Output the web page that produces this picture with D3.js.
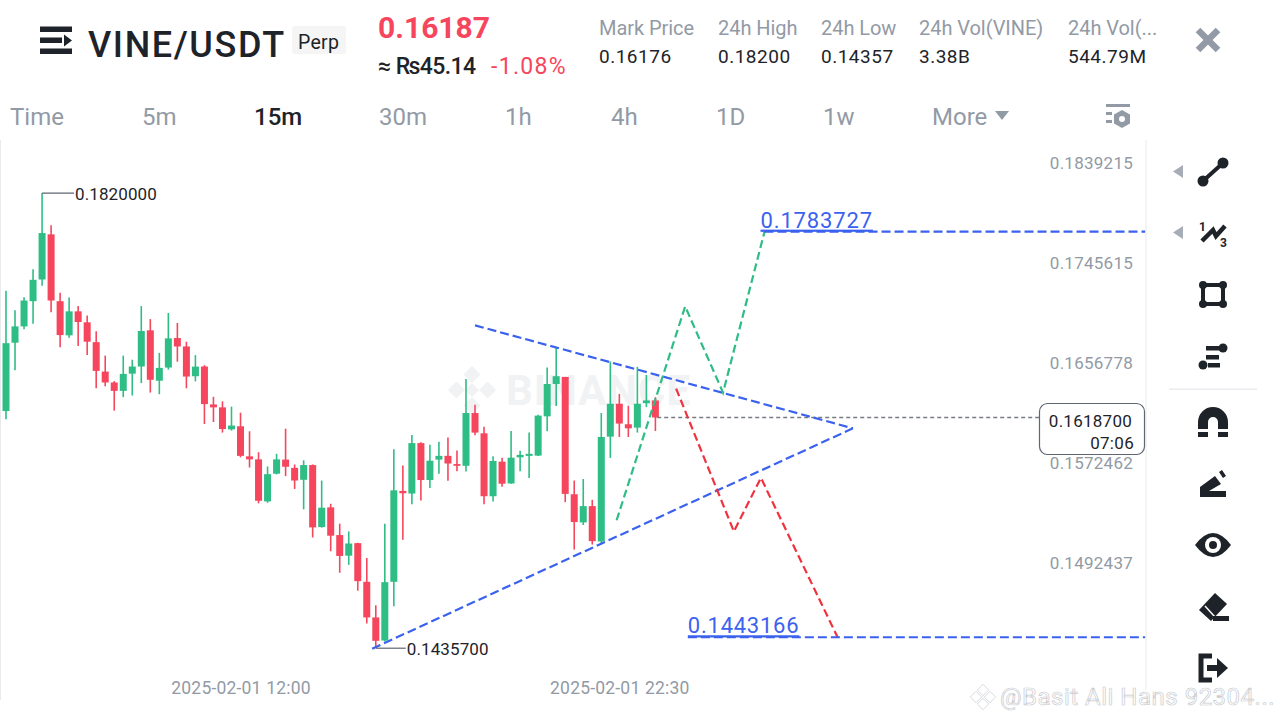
<!DOCTYPE html>
<html>
<head>
<meta charset="utf-8">
<title>VINE/USDT</title>
<script src="https://cdn.jsdelivr.net/npm/d3@7"></script>
<style>
html,body{margin:0;padding:0;background:#fff;overflow:hidden}
svg{display:block;font-family:Roboto,"DejaVu Sans",sans-serif}
</style>
</head>
<body>
<div id="chart"></div>
<script>
var opens = [.16242,.16832,.16976,.17201,.17397,.17812,.17201,.16897,.17110,.17012,
.16837,.16580,.16486,.16414,.16562,.16624,.16941,.16501,.16615,.16873,
.16799,.16540,.16624,.16298,.16273,.16087,.16113,.15862,.15837,.15493,
.15719,.15835,.15767,.15669,.15790,.15287,.15445,.15223,.15060,.15159,
.14856,.14582,.14407,.14856,.15578,.15557,.15972,.15667,.15835,.15866,
.15798,.15784,.16225,.16054,.15535,.15818,.15639,.15854,.15866,.15868,
.16197,.16473,.16534,.15551,.15324,.15455,.15172,.16026,.16304,.16130,
.16102,.16309,.16332];
var closes = [.16828,.16976,.17207,.17394,.17824,.17207,.16899,.17110,.17015,.16841,
.16586,.16486,.16414,.16560,.16624,.16935,.16509,.16612,.16870,.16799,
.16537,.16623,.16301,.16273,.16090,.16119,.15866,.15837,.15498,.15715,
.15837,.15776,.15663,.15790,.15284,.15442,.15218,.15058,.15156,.14861,
.14582,.14405,.14853,.15583,.15559,.15972,.15667,.15826,.15866,.15803,
.15784,.16225,.16060,.15535,.15824,.15637,.15851,.15874,.15883,.16203,
.16473,.16540,.15554,.15327,.15455,.15175,.16023,.16304,.16136,.16096,
.16304,.16332,.16187];
var highs = [.17296,.17119,.17237,.17491,.18200,.17896,.17276,.17234,.17157,.17074,
.16932,.16719,.16498,.16719,.16683,.17157,.17041,.16743,.17095,.17006,
.16841,.16723,.16636,.16363,.16324,.16279,.16228,.16071,.15896,.15778,
.15883,.16093,.15795,.15829,.15795,.15663,.15474,.15314,.15252,.15162,
.15042,.14675,.15314,.15921,.15787,.16039,.15980,.15959,.15984,.16018,
.15910,.16515,.16296,.16110,.15862,.15851,.16073,.15908,.16060,.16211,
.16615,.16793,.16534,.15663,.15675,.15506,.16225,.16668,.16388,.16287,
.16621,.16551,.16360];
var lows = [.16172,.16592,.16950,.17000,.17341,.17103,.16793,.16876,.16802,.16725,
.16436,.16453,.16245,.16360,.16374,.16481,.16399,.16385,.16597,.16666,
.16436,.16496,.16132,.16149,.16060,.16077,.15854,.15770,.15477,.15482,
.15713,.15699,.15594,.15429,.15204,.15282,.15095,.14926,.14988,.14787,
.14536,.14357,.14400,.14668,.15186,.15471,.15501,.15602,.15719,.15661,
.15739,.15736,.16037,.15471,.15493,.15613,.15637,.15739,.15683,.15864,
.16071,.16284,.15487,.15108,.15303,.15148,.15148,.15849,.16023,.16023,
.16060,.16275,.16073];

var priceTicks = [0.1839215,0.1745615,0.1656778,0.1572462,0.1492437];
var timeTicks = [26,68];
var timeLabels = ["2025-02-01 12:00","2025-02-01 22:30"];

// drawings, as [candle index, price]
var upperLine = [[52,.16985],[93.9,.16096]];
var lowerLine = [[40.6,.14346],[93.9,.16096]];
var greenPath = [[67.7,.15341],[75.3,.17154],[79.5,.16399],[84.1,.1783727]];
var redPath = [[74.3,.16433],[80.7,.15252],[83.7,.15685],[92.2,.1443166]];
var targetHigh = [[84.1,.1783727],[126.3,.1783727]];
var targetLow = [[75.6,.1443166],[126.3,.1443166]];
var lastPriceLine = [[72.2,.16187],[114.6,.16187]];

var statLabels = ["Mark Price","24h High","24h Low","24h Vol(VINE)","24h Vol(..."];
var statValues = ["0.16176","0.18200","0.14357","3.38B","544.79M"];
var statX = [599,718,821,919,1068];
var tabs = ["Time","5m","15m","30m","1h","4h","1D","1w","More"];
var tabX = [10,142,254,379,505,611,716,823,932];

var GREEN = "#2ebd85", RED = "#f6465d", BLUE = "#3b62ee", DARK = "#1e2329", GREY = "#929aa5";

var svg = d3.select("#chart").append("svg").attr("width",1280).attr("height",720);

var x = d3.scaleLinear().domain([0,72]).range([6,655.4]);
var y = d3.scaleLog().domain([0.1839215,0.1492437]).range([173,573]);

function txt(s,px,py,size,color,weight,anchor,ls){
    return svg.append("text").text(s).attr("x",px).attr("y",py)
        .attr("font-size",size).attr("fill",color)
        .attr("font-weight",weight||400)
        .attr("text-anchor",anchor||"start")
        .attr("letter-spacing",ls||0);
}

// frame
svg.append("line").attr("x1",0.5).attr("x2",0.5).attr("y1",140).attr("y2",700).attr("stroke","#e8eaed");
svg.append("line").attr("x1",1146).attr("x2",1146).attr("y1",140).attr("y2",690).attr("stroke","#e8eaed");

// watermark behind the candles
var wm = svg.append("g").attr("fill","#f1f2f3");
wm.append("g").attr("transform","translate(472,390) rotate(45)").selectAll("rect")
    .data([[-17,-17,12,12],[5,-17,12,12],[-17,5,12,12],[5,5,12,12],[-5,-5,10,10]])
    .enter().append("rect")
    .attr("x",function(d){return d[0]}).attr("y",function(d){return d[1]})
    .attr("width",function(d){return d[2]}).attr("height",function(d){return d[3]});
wm.append("text").text("BINANCE").attr("x",506).attr("y",405).attr("font-size",42).attr("font-weight",700).attr("letter-spacing",1);

// axes
var yAxis = d3.axisRight(y).tickValues(priceTicks).tickSize(0).tickFormat(function(d){return d.toFixed(7)});
var yg = svg.append("g").attr("transform","translate(1133,0)").call(yAxis);
yg.select(".domain").remove();
yg.selectAll("text").attr("x",0).attr("dy","-0.27em").attr("text-anchor","end")
    .attr("fill",GREY).attr("font-size",17).attr("font-family","Roboto").attr("letter-spacing",0.25);

var xAxis = d3.axisBottom(x).tickValues(timeTicks).tickSize(0)
    .tickFormat(function(d,i){return timeLabels[i]});
var xg = svg.append("g").attr("transform","translate(0,676)").call(xAxis);
xg.select(".domain").remove();
xg.selectAll("text").attr("y",0).attr("dy","1em").attr("fill",GREY).attr("font-size",17.5).attr("font-family","Roboto").attr("letter-spacing",0.2);

// candles
var candles = svg.append("g").selectAll("g").data(opens).enter().append("g");
candles.append("line")
    .attr("x1",function(d,i){return x(i)}).attr("x2",function(d,i){return x(i)})
    .attr("y1",function(d,i){return y(highs[i])}).attr("y2",function(d,i){return y(lows[i])})
    .attr("stroke-width",1.6)
    .attr("stroke",function(d,i){return closes[i]>=d?GREEN:RED});
candles.append("rect")
    .attr("x",function(d,i){return x(i)-3.5}).attr("width",7)
    .attr("y",function(d,i){return y(Math.max(d,closes[i]))})
    .attr("height",function(d,i){return Math.max(1.5,Math.abs(y(d)-y(closes[i])))})
    .attr("fill",function(d,i){return closes[i]>=d?GREEN:RED});

// drawings
var line = d3.line().x(function(d){return x(d[0])}).y(function(d){return y(d[1])});
function drawing(pts,color,w,dash){
    svg.append("path").attr("d",line(pts)).attr("fill","none")
        .attr("stroke",color).attr("stroke-width",w).attr("stroke-dasharray",dash);
}
drawing(lastPriceLine,"#777b82",1.5,"4 3");
drawing(upperLine,BLUE,2.2,"9 4");
drawing(lowerLine,BLUE,2.2,"9 4");
drawing(greenPath,GREEN,2.2,"8 4");
drawing(redPath,"#f0323f",2.2,"8 4");
drawing(targetHigh,BLUE,2.2,"9 4");
drawing(targetLow,BLUE,2.2,"9 4");

txt("0.1783727",x(84.1)-4,y(.1783727)-4,22,BLUE,400,"start",0.85).attr("text-decoration","underline");
txt("0.1443166",x(75.6),y(.1443166)-4,22,BLUE,400,"start",0.75).attr("text-decoration","underline");

// high / low markers
svg.append("line").attr("x1",x(4)).attr("x2",x(4)+32).attr("y1",y(.182)).attr("y2",y(.182)).attr("stroke","#5e6673").attr("stroke-width",1.2);
txt("0.1820000",x(4)+33,y(.182)+7,17,DARK,400,"start",0.1);
svg.append("line").attr("x1",x(41)).attr("x2",x(41)+30).attr("y1",y(.14357)+1).attr("y2",y(.14357)+1).attr("stroke","#5e6673").attr("stroke-width",1.2);
txt("0.1435700",x(41)+31,y(.14357)+8,17,DARK,400,"start",0.1);

// last price box
svg.append("rect").attr("x",1039.5).attr("y",403.5).attr("width",105).attr("height",51).attr("rx",8)
    .attr("fill","#fff").attr("stroke","#5e6673").attr("stroke-width",1.2);
txt("0.1618700",1132,427,17,DARK,400,"end",0.25);
txt("07:06",1134,449,17,DARK,400,"end",0.3);

// header
svg.append("g").attr("fill",DARK).selectAll("rect")
    .data([[40,26.5,32,5.5],[40,37.5,22,5.5],[40,48.5,32,5.5]]).enter().append("rect")
    .attr("x",function(d){return d[0]}).attr("y",function(d){return d[1]})
    .attr("width",function(d){return d[2]}).attr("height",function(d){return d[3]});
svg.append("path").attr("d","M64 34.5L72 40.5L64 46.5Z").attr("fill",DARK);
txt("VINE/USDT",88,57,36,DARK,500,"start",1.6);
svg.append("rect").attr("x",292).attr("y",26).attr("width",54).attr("height",28).attr("rx",3).attr("fill","#f5f5f5");
txt("Perp",298,49,19.5,DARK,400,"start",0.3);
txt("0.16187",378,38,30,RED,700,"start",0);
txt("≈ ₨45.14",378,74,23,DARK,500,"start",-0.6);
txt("-1.08%",491,74,23,RED,400,"start",1.3);

statLabels.forEach(function(s,i){
    txt(s,statX[i],35,20,GREY,400,"start",-0.05);
    txt(statValues[i],statX[i],63,19,DARK,400,"start",0.5);
});

tabs.forEach(function(s,i){
    txt(s,tabX[i],125,24,s=="15m"?DARK:GREY,s=="15m"?500:400,"start",0);
});
svg.append("path").attr("d","M995 111H1009L1002 120Z").attr("fill",GREY);
// settings icon
svg.append("g").attr("fill",GREY).html(
    '<rect x="1106" y="104" width="24" height="3"/><rect x="1106" y="112" width="6" height="3"/>'+
    '<rect x="1106" y="120" width="6" height="3"/><path d="M1122 110l8 4.5v9l-8 4.5l-8-4.5v-9z"/><circle cx="1122" cy="119" r="3" fill="#fff"/>');
// close
svg.append("path").attr("d","M1198 30L1218 50M1218 30L1198 50").attr("stroke",GREY).attr("stroke-width",6.5).attr("fill","none");

// side toolbar
var bar = svg.append("g").attr("fill",DARK);
bar.append("path").attr("d","M1183 165V178L1173 171.5Z M1183 226V239L1173 232.5Z").attr("fill","#a7adb6");
bar.html(bar.html()+
    '<path d="M1203 181L1223 163" stroke="#1e2329" stroke-width="4"/><circle cx="1203" cy="181" r="5.5"/><circle cx="1223" cy="163" r="5.5"/>'+
    '<path d="M1202 241L1213 230L1216 236L1225 226" stroke="#1e2329" stroke-width="4.5" fill="none"/>'+
    '<text x="1199" y="231" font-size="12" font-weight="700">1</text><text x="1220" y="247" font-size="12" font-weight="700">3</text>'+
    '<rect x="1203" y="285" width="20" height="19" fill="none" stroke="#1e2329" stroke-width="4"/>'+
    '<circle cx="1203" cy="285" r="4"/><circle cx="1223" cy="285" r="4"/><circle cx="1203" cy="304" r="4"/><circle cx="1223" cy="304" r="4"/>'+
    '<rect x="1206" y="346" width="16" height="4.5"/><circle cx="1223" cy="348" r="4.5"/>'+
    '<rect x="1206" y="355" width="13" height="4.5"/><rect x="1208" y="363" width="12" height="4.5"/><circle cx="1203" cy="365" r="4.5"/>'+
    '<rect x="1169" y="388.5" width="88" height="1.5" fill="#eaecef"/>'+
    '<path d="M1203 429V422a10 10 0 0 1 20 0V429" fill="none" stroke="#1e2329" stroke-width="10"/>'+
    '<rect x="1198" y="432" width="10" height="5"/><rect x="1218" y="432" width="10" height="5"/>'+
    '<path d="M1200 497V487L1215 476L1221 484L1209 491H1226V497Z"/><path d="M1219 472L1222 470L1226 476L1223 478Z"/>'+
    '<path d="M1195 545Q1213 521 1231 545Q1213 569 1195 545Z"/><circle cx="1213" cy="545" r="8" fill="#fff"/><circle cx="1213" cy="545" r="4"/>'+
    '<path d="M1199 610L1215 593L1227 604L1211 621Z"/><path d="M1205 606L1215 617" stroke="#fff" stroke-width="1.5"/><rect x="1213" y="616" width="16" height="5"/>'+
    '<path d="M1212 656H1201V680H1212" fill="none" stroke="#1e2329" stroke-width="5"/><rect x="1207" y="665" width="11" height="6"/><path d="M1217 658L1228 668L1217 678Z"/>');

// username watermark
var mark = svg.append("g").attr("fill","#fff").attr("stroke","#c9ccd1").attr("stroke-width",0.7);
mark.selectAll("rect").data([[976,697],[983,690],[990,697],[983,704]]).enter().append("rect")
    .attr("x",function(d){return d[0]-4}).attr("y",function(d){return d[1]-4}).attr("width",8).attr("height",8)
    .attr("transform",function(d){return "rotate(45 "+d[0]+" "+d[1]+")"});
mark.append("text").text("@Basit Ali Hans 92304...").attr("x",1000).attr("y",705).attr("font-size",24).attr("font-weight",400).attr("letter-spacing",0.5);
</script>
</body>
</html>
